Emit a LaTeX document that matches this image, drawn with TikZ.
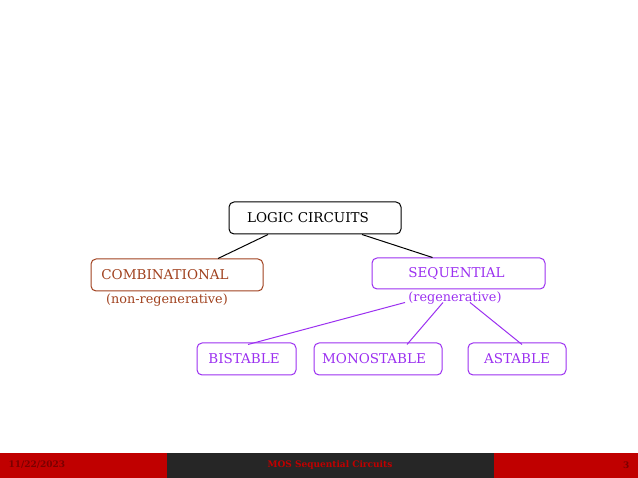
\documentclass[tikz,border=0pt]{standalone}
\usepackage{fontspec}
\setmainfont{DejaVu Serif}
\definecolor{brn}{HTML}{A0411E}
\definecolor{prp}{HTML}{9B30F0}
\definecolor{fred}{HTML}{C00000}
\definecolor{fdark}{HTML}{262626}
\definecolor{ftxt}{HTML}{7A0000}
\begin{document}
\begin{tikzpicture}[x=1pt,y=-1pt,
  box/.style={draw,rounded corners=5pt,line width=1pt,inner sep=0pt,font=\fontsize{13.5}{15}\selectfont},
  lbl/.style={inner sep=0pt,font=\fontsize{12.8}{14}\selectfont}]
\useasboundingbox (0,0) rectangle (638,478);
\fill[fred] (0,453) rectangle (167,478);
\fill[fdark] (167,453) rectangle (494,478);
\fill[fred] (494,453) rectangle (638,478);
\node[font=\bfseries\fontsize{9}{10}\selectfont,text=ftxt,anchor=west] (d) at (5,465) {11/22/2023};
\node[font=\bfseries\fontsize{9}{10}\selectfont,text=fred] (t) at (330,465) {MOS Sequential Circuits};
\node[font=\bfseries\fontsize{9}{10}\selectfont,text=ftxt,anchor=east] (p) at (633,465) {3};

\node[box,minimum width=172,minimum height=32] (lc) at (315,218) {LOGIC CIRCUITS\hspace*{14pt}};
\node[box,draw=brn,text=brn,minimum width=172,minimum height=32] (cb) at (177,275) {COMBINATIONAL\hspace*{24pt}};
\node[box,draw=prp,text=prp,minimum width=173,minimum height=31] (sq) at (458.5,273.5) {SEQUENTIAL\hspace*{4pt}};
\node[lbl,text=brn] (nr) at (167,300) {(non-regenerative)};
\node[lbl,text=prp] (rg) at (455,298) {(regenerative)};
\node[box,draw=prp,text=prp,minimum width=99,minimum height=32] (bi) at (246.5,359) {BISTABLE\hspace*{5pt}};
\node[box,draw=prp,text=prp,minimum width=128,minimum height=32] (mo) at (378,359) {MONOSTABLE\hspace*{8pt}};
\node[box,draw=prp,text=prp,minimum width=98,minimum height=32] (as) at (517,359) {ASTABLE};

\draw[line width=1pt] ([xshift=-47]lc.south) -- ([xshift=41]cb.north);
\draw[line width=1pt] ([xshift=47]lc.south) -- ([xshift=-26]sq.north);
\draw[prp,line width=1pt] ([xshift=-50,yshift=2]rg.south) -- ([xshift=1.5,yshift=-2]bi.north);
\draw[prp,line width=1pt] ([xshift=-12,yshift=2]rg.south) -- ([xshift=29,yshift=-2]mo.north);
\draw[prp,line width=1pt] ([xshift=15,yshift=2]rg.south) -- ([xshift=5,yshift=-2]as.north);
\end{tikzpicture}
\end{document}
